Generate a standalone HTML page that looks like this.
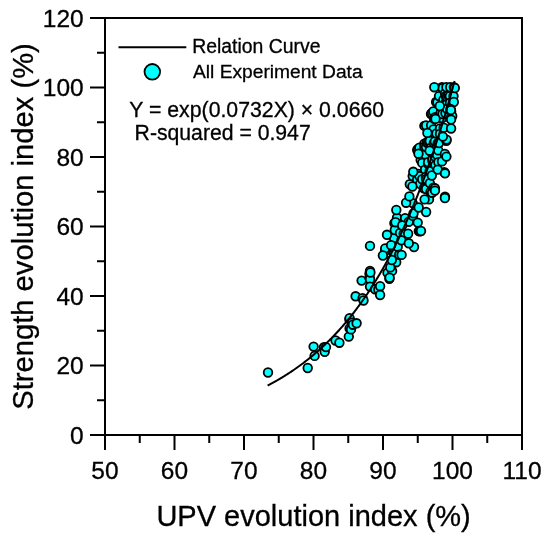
<!DOCTYPE html><html><head><meta charset="utf-8"><style>html,body{margin:0;padding:0;background:#fff;}svg{display:block;}text{font-family:"Liberation Sans",Arial,sans-serif;fill:#000;stroke:#000;stroke-width:0.3px;}</style></head><body>
<svg width="550" height="541" viewBox="0 0 550 541">
<rect width="550" height="541" fill="#fff"/>
<g fill="#00ffff" stroke="#000" stroke-width="1.8">
<circle cx="268.0" cy="372.5" r="4.3"/>
<circle cx="307.7" cy="368.0" r="4.3"/>
<circle cx="313.6" cy="346.6" r="4.3"/>
<circle cx="314.6" cy="355.9" r="4.3"/>
<circle cx="324" cy="347.3" r="4.3"/>
<circle cx="324.7" cy="351.8" r="4.3"/>
<circle cx="326" cy="347.1" r="4.3"/>
<circle cx="335.5" cy="340.5" r="4.3"/>
<circle cx="339.4" cy="342.7" r="4.3"/>
<circle cx="348.8" cy="336.6" r="4.3"/>
<circle cx="349.4" cy="319.4" r="4.3"/>
<circle cx="349.6" cy="318.1" r="4.3"/>
<circle cx="349.6" cy="328.4" r="4.3"/>
<circle cx="351" cy="329.4" r="4.3"/>
<circle cx="352.1" cy="322.7" r="4.3"/>
<circle cx="352.9" cy="324.7" r="4.3"/>
<circle cx="355.6" cy="296.3" r="4.3"/>
<circle cx="356.6" cy="323.3" r="4.3"/>
<circle cx="361.6" cy="280.6" r="4.3"/>
<circle cx="362.6" cy="298.2" r="4.3"/>
<circle cx="363.5" cy="300.5" r="4.3"/>
<circle cx="369.5" cy="273.7" r="4.3"/>
<circle cx="369.6" cy="277.7" r="4.3"/>
<circle cx="370" cy="270.9" r="4.3"/>
<circle cx="370" cy="279.2" r="4.3"/>
<circle cx="370" cy="286.6" r="4.3"/>
<circle cx="370.4" cy="272.5" r="4.3"/>
<circle cx="375.1" cy="289.2" r="4.3"/>
<circle cx="378.3" cy="289.4" r="4.3"/>
<circle cx="380.1" cy="286.2" r="4.3"/>
<circle cx="380.1" cy="295" r="4.3"/>
<circle cx="385.1" cy="251.1" r="4.3"/>
<circle cx="385.2" cy="248.4" r="4.3"/>
<circle cx="387.5" cy="272.8" r="4.3"/>
<circle cx="389.4" cy="278.8" r="4.3"/>
<circle cx="392.1" cy="270.9" r="4.3"/>
<circle cx="394" cy="238.1" r="4.3"/>
<circle cx="394" cy="253.3" r="4.3"/>
<circle cx="394.4" cy="223.3" r="4.3"/>
<circle cx="394.8" cy="230" r="4.3"/>
<circle cx="396.2" cy="262.2" r="4.3"/>
<circle cx="397" cy="217.8" r="4.3"/>
<circle cx="397.7" cy="246.7" r="4.3"/>
<circle cx="399.2" cy="254.8" r="4.3"/>
<circle cx="400" cy="232.9" r="4.3"/>
<circle cx="401.6" cy="254.9" r="4.3"/>
<circle cx="403.7" cy="233.7" r="4.3"/>
<circle cx="405.1" cy="218.1" r="4.3"/>
<circle cx="408.8" cy="221.7" r="4.3"/>
<circle cx="409.8" cy="184.2" r="4.3"/>
<circle cx="412.7" cy="176.1" r="4.3"/>
<circle cx="412.7" cy="203.1" r="4.3"/>
<circle cx="412.9" cy="215.9" r="4.3"/>
<circle cx="413.5" cy="213.4" r="4.3"/>
<circle cx="414" cy="247" r="4.3"/>
<circle cx="417.2" cy="150" r="4.3"/>
<circle cx="417.2" cy="179.4" r="4.3"/>
<circle cx="417.7" cy="222.6" r="4.3"/>
<circle cx="418.1" cy="148.9" r="4.3"/>
<circle cx="418.5" cy="174" r="4.3"/>
<circle cx="418.8" cy="231.1" r="4.3"/>
<circle cx="419.4" cy="147.7" r="4.3"/>
<circle cx="419.4" cy="176.1" r="4.3"/>
<circle cx="419.9" cy="231.4" r="4.3"/>
<circle cx="420.1" cy="183.9" r="4.3"/>
<circle cx="420.7" cy="160" r="4.3"/>
<circle cx="421" cy="231" r="4.3"/>
<circle cx="422.2" cy="162.9" r="4.3"/>
<circle cx="422.2" cy="179.2" r="4.3"/>
<circle cx="423.8" cy="188.3" r="4.3"/>
<circle cx="424.4" cy="125.9" r="4.3"/>
<circle cx="424.4" cy="143.7" r="4.3"/>
<circle cx="424.4" cy="147" r="4.3"/>
<circle cx="425.1" cy="154.4" r="4.3"/>
<circle cx="425.1" cy="169.6" r="4.3"/>
<circle cx="425.9" cy="177" r="4.3"/>
<circle cx="426.1" cy="125.5" r="4.3"/>
<circle cx="426.1" cy="147" r="4.3"/>
<circle cx="426.1" cy="179.1" r="4.3"/>
<circle cx="426.1" cy="189" r="4.3"/>
<circle cx="426.1" cy="212" r="4.3"/>
<circle cx="426.8" cy="142.5" r="4.3"/>
<circle cx="428" cy="163.7" r="4.3"/>
<circle cx="428.1" cy="143" r="4.3"/>
<circle cx="428.1" cy="162.2" r="4.3"/>
<circle cx="428.3" cy="133.7" r="4.3"/>
<circle cx="429" cy="199.4" r="4.3"/>
<circle cx="429.4" cy="142.2" r="4.3"/>
<circle cx="429.6" cy="171.1" r="4.3"/>
<circle cx="429.8" cy="141" r="4.3"/>
<circle cx="429.8" cy="183.1" r="4.3"/>
<circle cx="430.5" cy="192" r="4.3"/>
<circle cx="431" cy="114" r="4.3"/>
<circle cx="431.1" cy="125.2" r="4.3"/>
<circle cx="431.1" cy="147.7" r="4.3"/>
<circle cx="431.8" cy="175.5" r="4.3"/>
<circle cx="432" cy="113" r="4.3"/>
<circle cx="432.1" cy="192.7" r="4.3"/>
<circle cx="432.4" cy="160.7" r="4.3"/>
<circle cx="432.5" cy="159.2" r="4.3"/>
<circle cx="433.3" cy="111.5" r="4.3"/>
<circle cx="433.4" cy="187.6" r="4.3"/>
<circle cx="433.5" cy="129.5" r="4.3"/>
<circle cx="433.9" cy="143" r="4.3"/>
<circle cx="434.2" cy="118.9" r="4.3"/>
<circle cx="434.6" cy="156.3" r="4.3"/>
<circle cx="434.8" cy="141.5" r="4.3"/>
<circle cx="434.9" cy="188.3" r="4.3"/>
<circle cx="435" cy="190.6" r="4.3"/>
<circle cx="435.1" cy="117.3" r="4.3"/>
<circle cx="435.4" cy="165.1" r="4.3"/>
<circle cx="436.1" cy="102" r="4.3"/>
<circle cx="436.5" cy="133.5" r="4.3"/>
<circle cx="437" cy="146.3" r="4.3"/>
<circle cx="437" cy="154.8" r="4.3"/>
<circle cx="437.4" cy="102.2" r="4.3"/>
<circle cx="437.7" cy="143.3" r="4.3"/>
<circle cx="438.3" cy="150.4" r="4.3"/>
<circle cx="438.4" cy="162.2" r="4.3"/>
<circle cx="439" cy="96.1" r="4.3"/>
<circle cx="439" cy="143" r="4.3"/>
<circle cx="440" cy="128.5" r="4.3"/>
<circle cx="440" cy="134" r="4.3"/>
<circle cx="440.7" cy="113" r="4.3"/>
<circle cx="441.1" cy="117.7" r="4.3"/>
<circle cx="442" cy="87.2" r="4.3"/>
<circle cx="442.2" cy="118.1" r="4.3"/>
<circle cx="442.5" cy="88.1" r="4.3"/>
<circle cx="442.5" cy="114" r="4.3"/>
<circle cx="443.3" cy="100" r="4.3"/>
<circle cx="443.7" cy="127.7" r="4.3"/>
<circle cx="444.3" cy="172.1" r="4.3"/>
<circle cx="444.9" cy="154" r="4.3"/>
<circle cx="445" cy="93.3" r="4.3"/>
<circle cx="445" cy="104.6" r="4.3"/>
<circle cx="445" cy="196.7" r="4.3"/>
<circle cx="445.5" cy="102.9" r="4.3"/>
<circle cx="445.5" cy="113.3" r="4.3"/>
<circle cx="445.7" cy="96.1" r="4.3"/>
<circle cx="446.4" cy="87.2" r="4.3"/>
<circle cx="446.4" cy="102" r="4.3"/>
<circle cx="446.4" cy="140.7" r="4.3"/>
<circle cx="446.6" cy="103.9" r="4.3"/>
<circle cx="446.6" cy="139.6" r="4.3"/>
<circle cx="447" cy="97" r="4.3"/>
<circle cx="447" cy="108.8" r="4.3"/>
<circle cx="448.3" cy="95.5" r="4.3"/>
<circle cx="449.8" cy="96.1" r="4.3"/>
<circle cx="450" cy="102.8" r="4.3"/>
<circle cx="450.2" cy="87.2" r="4.3"/>
<circle cx="450.5" cy="118.3" r="4.3"/>
<circle cx="451.1" cy="111.5" r="4.3"/>
<circle cx="452.2" cy="116" r="4.3"/>
<circle cx="453.5" cy="96.1" r="4.3"/>
<circle cx="453.8" cy="102" r="4.3"/>
<circle cx="453.9" cy="87.2" r="4.3"/>
<circle cx="454.8" cy="88" r="4.3"/>
<circle cx="370" cy="245.9" r="4.3"/>
<circle cx="382.9" cy="255.5" r="4.3"/>
<circle cx="387" cy="234.8" r="4.3"/>
<circle cx="389.6" cy="277.7" r="4.3"/>
<circle cx="390.3" cy="267.4" r="4.3"/>
<circle cx="391.1" cy="245.2" r="4.3"/>
<circle cx="391.8" cy="260" r="4.3"/>
<circle cx="395.5" cy="222.2" r="4.3"/>
<circle cx="396.3" cy="210" r="4.3"/>
<circle cx="401.4" cy="240.3" r="4.3"/>
<circle cx="402.2" cy="225.5" r="4.3"/>
<circle cx="406.1" cy="202.7" r="4.3"/>
<circle cx="408.1" cy="233.7" r="4.3"/>
<circle cx="408.8" cy="243.3" r="4.3"/>
<circle cx="409.4" cy="196.4" r="4.3"/>
<circle cx="412.4" cy="186.5" r="4.3"/>
<circle cx="413.3" cy="171.8" r="4.3"/>
<circle cx="418.5" cy="153.7" r="4.3"/>
<circle cx="418.7" cy="207.5" r="4.3"/>
<circle cx="424.6" cy="199.4" r="4.3"/>
<circle cx="427.4" cy="132.9" r="4.3"/>
<circle cx="429.6" cy="150.7" r="4.3"/>
<circle cx="434.3" cy="87.2" r="4.3"/>
<circle cx="435.5" cy="118.9" r="4.3"/>
<circle cx="437.7" cy="169.6" r="4.3"/>
<circle cx="439.8" cy="106" r="4.3"/>
<circle cx="442" cy="161.4" r="4.3"/>
<circle cx="442.9" cy="136.6" r="4.3"/>
<circle cx="444.9" cy="198" r="4.3"/>
<circle cx="445" cy="173.3" r="4.3"/>
<circle cx="446.4" cy="156.6" r="4.3"/>
<circle cx="450.5" cy="109" r="4.3"/>
<circle cx="450.9" cy="110.1" r="4.3"/>
<circle cx="451.1" cy="119.6" r="4.3"/>
<circle cx="451.1" cy="128.5" r="4.3"/>
</g>
<polyline points="267.63,385.58 268.32,385.22 269.02,384.85 269.71,384.48 270.41,384.11 271.10,383.74 271.80,383.36 272.49,382.98 273.19,382.60 273.88,382.21 274.58,381.83 275.27,381.44 275.97,381.04 276.66,380.65 277.36,380.25 278.05,379.84 278.75,379.44 279.44,379.03 280.14,378.62 280.83,378.20 281.53,377.79 282.22,377.37 282.92,376.94 283.61,376.52 284.31,376.09 285.00,375.65 285.70,375.22 286.39,374.78 287.09,374.34 287.78,373.89 288.48,373.44 289.17,372.99 289.87,372.53 290.56,372.08 291.26,371.61 291.95,371.15 292.65,370.68 293.34,370.21 294.04,369.73 294.73,369.25 295.43,368.77 296.12,368.28 296.82,367.79 297.51,367.30 298.21,366.80 298.90,366.30 299.60,365.79 300.29,365.29 300.99,364.77 301.68,364.26 302.38,363.74 303.07,363.21 303.77,362.69 304.46,362.15 305.16,361.62 305.85,361.08 306.55,360.54 307.24,359.99 307.94,359.44 308.63,358.88 309.33,358.33 310.02,357.76 310.72,357.19 311.41,356.62 312.11,356.05 312.80,355.47 313.50,354.88 314.19,354.29 314.89,353.70 315.58,353.10 316.28,352.50 316.97,351.90 317.67,351.29 318.36,350.67 319.06,350.05 319.75,349.43 320.45,348.80 321.14,348.16 321.84,347.53 322.53,346.88 323.23,346.24 323.92,345.58 324.62,344.93 325.31,344.27 326.01,343.60 326.70,342.93 327.40,342.25 328.09,341.57 328.79,340.88 329.48,340.19 330.18,339.50 330.87,338.79 331.57,338.09 332.26,337.37 332.96,336.66 333.65,335.94 334.35,335.21 335.04,334.47 335.74,333.74 336.43,332.99 337.13,332.24 337.82,331.49 338.52,330.73 339.21,329.96 339.91,329.19 340.60,328.41 341.30,327.63 341.99,326.84 342.69,326.05 343.38,325.24 344.08,324.44 344.77,323.63 345.47,322.81 346.16,321.98 346.86,321.15 347.55,320.32 348.25,319.47 348.94,318.63 349.64,317.77 350.33,316.91 351.03,316.04 351.72,315.17 352.42,314.29 353.11,313.40 353.81,312.51 354.50,311.61 355.20,310.70 355.89,309.79 356.59,308.87 357.28,307.94 357.98,307.01 358.67,306.07 359.37,305.12 360.06,304.17 360.76,303.20 361.45,302.24 362.15,301.26 362.84,300.28 363.54,299.29 364.23,298.29 364.93,297.29 365.62,296.27 366.32,295.26 367.01,294.23 367.71,293.19 368.40,292.15 369.10,291.10 369.79,290.05 370.49,288.98 371.18,287.91 371.88,286.83 372.57,285.74 373.27,284.64 373.96,283.54 374.66,282.43 375.35,281.30 376.05,280.18 376.74,279.04 377.44,277.89 378.13,276.74 378.83,275.57 379.52,274.40 380.22,273.22 380.91,272.04 381.61,270.84 382.30,269.63 383.00,268.42 383.69,267.19 384.39,265.96 385.08,264.72 385.78,263.47 386.47,262.21 387.17,260.94 387.86,259.66 388.56,258.37 389.25,257.07 389.95,255.77 390.64,254.45 391.34,253.12 392.03,251.79 392.73,250.44 393.42,249.08 394.12,247.72 394.81,246.34 395.51,244.96 396.20,243.56 396.90,242.15 397.59,240.74 398.29,239.31 398.98,237.87 399.68,236.42 400.37,234.96 401.07,233.50 401.76,232.01 402.46,230.52 403.15,229.02 403.85,227.51 404.54,225.98 405.24,224.45 405.93,222.90 406.63,221.34 407.32,219.77 408.02,218.19 408.71,216.60 409.41,214.99 410.10,213.38 410.80,211.75 411.49,210.11 412.19,208.46 412.88,206.79 413.58,205.12 414.27,203.43 414.97,201.73 415.66,200.01 416.36,198.29 417.05,196.55 417.75,194.79 418.44,193.03 419.14,191.25 419.83,189.46 420.53,187.66 421.22,185.84 421.92,184.01 422.61,182.17 423.31,180.31 424.00,178.44 424.70,176.55 425.39,174.65 426.09,172.74 426.78,170.81 427.48,168.87 428.17,166.92 428.87,164.95 429.56,162.96 430.26,160.97 430.95,158.95 431.65,156.92 432.34,154.88 433.04,152.82 433.73,150.75 434.43,148.66 435.12,146.56 435.82,144.44 436.51,142.30 437.21,140.15 437.90,137.99 438.60,135.81 439.29,133.61 439.99,131.39 440.68,129.16 441.38,126.92 442.07,124.65 442.77,122.37 443.46,120.08 444.16,117.76 444.85,115.43 445.55,113.08 446.24,110.72 446.94,108.34 447.63,105.94 448.33,103.52 449.02,101.08 449.72,98.63 450.41,96.16 451.11,93.67 451.80,91.16 452.50,88.63 453.19,86.09 453.89,83.53 454.58,80.94" fill="none" stroke="#000" stroke-width="2"/>
<rect x="105" y="18" width="417" height="417" fill="none" stroke="#000" stroke-width="2"/>
<path d="M105.00 435V450M139.75 435V443M174.50 435V450M209.25 435V443M244.00 435V450M278.75 435V443M313.50 435V450M348.25 435V443M383.00 435V450M417.75 435V443M452.50 435V450M487.25 435V443M522.00 435V450M105 435.00H90M105 400.25H97M105 365.50H90M105 330.75H97M105 296.00H90M105 261.25H97M105 226.50H90M105 191.75H97M105 157.00H90M105 122.25H97M105 87.50H90M105 52.75H97M105 18.00H90" stroke="#000" stroke-width="2" fill="none"/>
<text x="105.00" y="478.7" font-size="24.5" text-anchor="middle">50</text>
<text x="174.50" y="478.7" font-size="24.5" text-anchor="middle">60</text>
<text x="244.00" y="478.7" font-size="24.5" text-anchor="middle">70</text>
<text x="313.50" y="478.7" font-size="24.5" text-anchor="middle">80</text>
<text x="383.00" y="478.7" font-size="24.5" text-anchor="middle">90</text>
<text x="452.50" y="478.7" font-size="24.5" text-anchor="middle">100</text>
<text x="522.00" y="478.7" font-size="24.5" text-anchor="middle">110</text>
<text x="83.7" y="443.80" font-size="24.5" text-anchor="end">0</text>
<text x="83.7" y="374.30" font-size="24.5" text-anchor="end">20</text>
<text x="83.7" y="304.80" font-size="24.5" text-anchor="end">40</text>
<text x="83.7" y="235.30" font-size="24.5" text-anchor="end">60</text>
<text x="83.7" y="165.80" font-size="24.5" text-anchor="end">80</text>
<text x="83.7" y="96.30" font-size="24.5" text-anchor="end">100</text>
<text x="83.7" y="26.80" font-size="24.5" text-anchor="end">120</text>
<text x="313.6" y="525.5" font-size="29" text-anchor="middle">UPV evolution index (%)</text>
<text transform="translate(33.0 226.5) rotate(-90)" x="0" y="0" font-size="29.2" text-anchor="middle">Strength evolution index (%)</text>
<path d="M118.5 47.3H186.3" stroke="#000" stroke-width="2"/>
<circle cx="152.3" cy="71.8" r="7.8" fill="#00ffff" stroke="#000" stroke-width="1.8"/>
<text x="192.2" y="53.0" font-size="19.4">Relation Curve</text>
<text x="193.0" y="78.4" font-size="19.2">All Experiment Data</text>
<text x="129.3" y="116.6" font-size="21.25">Y = exp(0.0732X) × 0.0660</text>
<text x="134.6" y="139.5" font-size="21.2">R-squared = 0.947</text>
</svg></body></html>
